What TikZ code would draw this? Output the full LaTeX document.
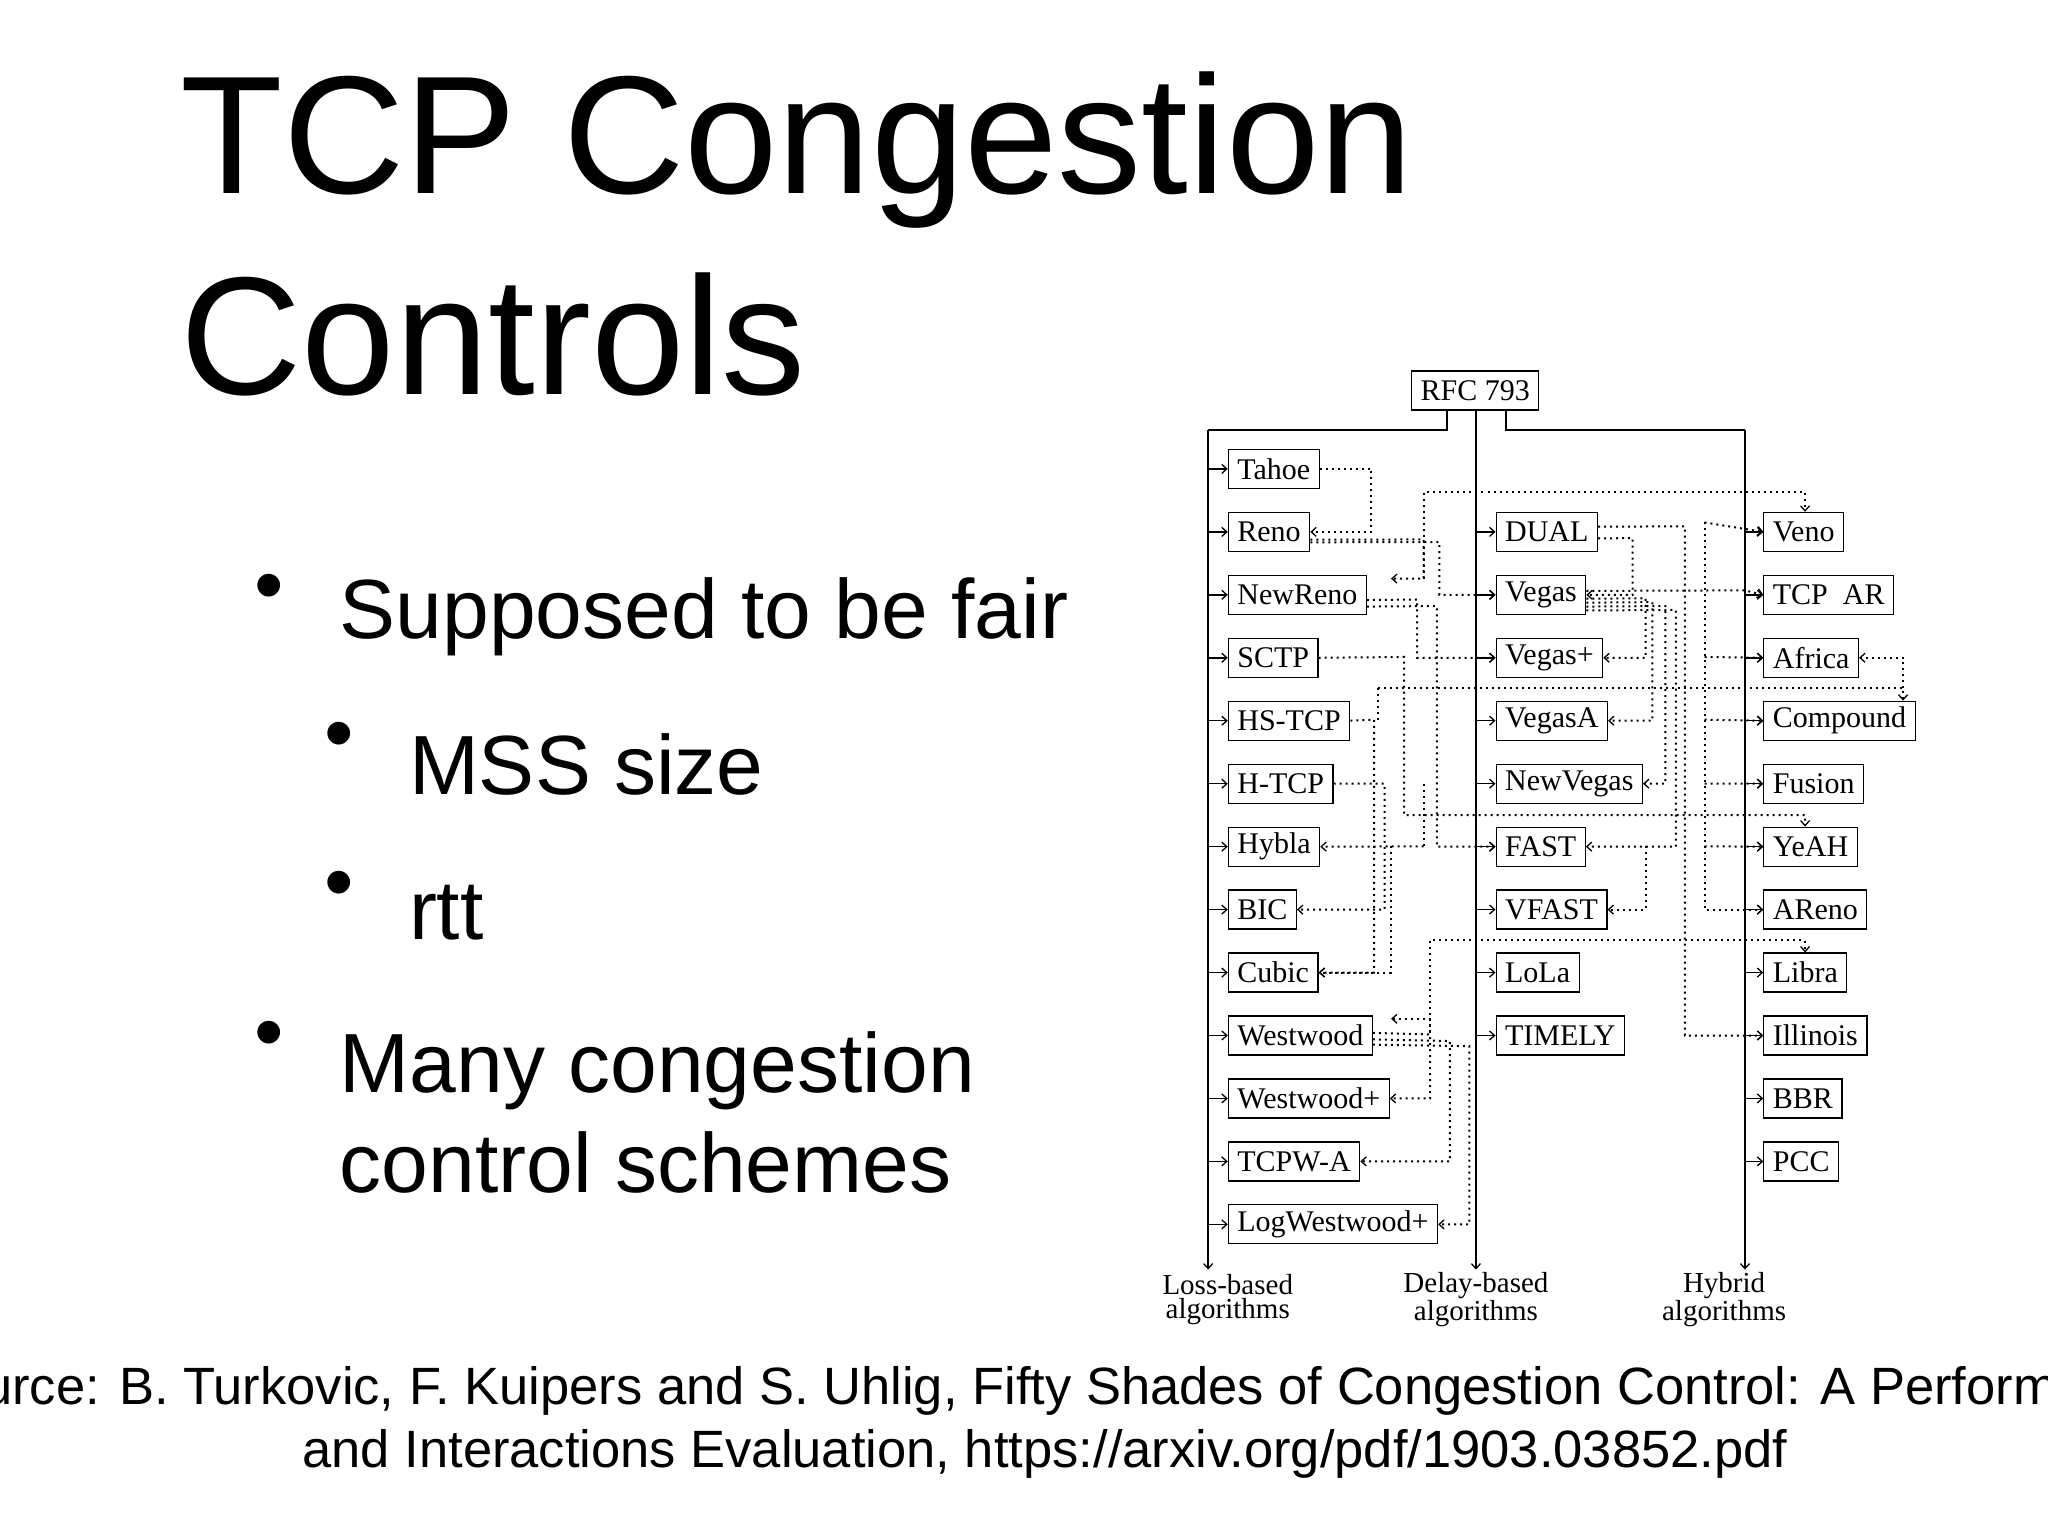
\documentclass[tikz,border=0pt]{standalone}
\usepackage{fontspec}
\setmainfont{Liberation Sans}
\newfontfamily\dfont{Liberation Serif}
\usetikzlibrary{arrows.meta}
\begin{document}
\begin{tikzpicture}[x=1.306pt,y=-1.306pt,
  box/.style={draw,line width=1.2pt,font=\dfont\fontsize{30}{32}\selectfont,inner xsep=9pt,inner ysep=0pt,minimum height=39pt,anchor=west},
  tree/.style={line width=2.2pt},
  tip/.style={-{Straight Barb[length=5pt,width=9pt,line width=1.3pt]}},
  dot/.style={line width=2pt,dash pattern=on 2pt off 4pt,-{Straight Barb[length=5pt,width=9pt,line width=1.3pt]}},
  dl/.style={line width=2pt,dash pattern=on 2pt off 4pt},
  lab/.style={font=\dfont\fontsize{29}{24}\selectfont,align=center},
  bul/.style={anchor=west,font=\fontsize{84}{100}\selectfont}]
\useasboundingbox (0,0) rectangle (1568,1176);
% title and bullets
\node[anchor=base west,font=\fontsize{168}{168}\selectfont,inner sep=0] (t1) at (138,148) {TCP Congestion};
\node[anchor=base west,font=\fontsize{168}{168}\selectfont,inner sep=0] (t2) at (138,302) {Controls};
\node[bul,inner sep=0] (b1d) at (195,455) {•};
\node[bul,inner sep=0] (b1) at (260,472) {Supposed to be fair};
\node[bul,inner sep=0] (b2d) at (248,568) {•};
\node[bul,inner sep=0] (b2) at (313,585) {MSS size};
\node[bul,inner sep=0] (b3d) at (248,682) {•};
\node[bul,inner sep=0] (b3) at (313,699) {rtt};
\node[bul,inner sep=0] (b4d) at (195,797) {•};
\node[bul,inner sep=0,align=left] (b4) at (260,852) {Many congestion\\control schemes};
\node[font=\fontsize{52.5}{63}\selectfont,align=center] (src) at (800,1089) {Source: B. Turkovic, F. Kuipers and S. Uhlig, Fifty Shades of Congestion Control: A Performance\\and Interactions Evaluation, https://arxiv.org/pdf/1903.03852.pdf};
% diagram
\node[box,anchor=center] (rfc) at (1129.5,299) {RFC 793};
\coordinate (L) at (925,329); \coordinate (M) at (1130,329); \coordinate (R) at (1336,329);
\draw[tree] (1108,314) |- (L);
\draw[tree] (1153,314) |- (R);
\draw[tree,tip] (L) -- (925,972);
\draw[tree,tip] (1130,314) -- (1130,972);
\draw[tree,tip] (R) -- (1336,972);
\node[lab] (ll) at (940,995) {Loss-based\\algorithms};
\node[lab] (dl) at (1130,995) {Delay-based\\algorithms};
\node[lab] (hl) at (1320,995) {Hybrid\\algorithms};
\foreach \n/\t/\r in {tahoe/Tahoe/0,reno/Reno/1,newreno/NewReno/2,sctp/SCTP/3,hstcp/HS-TCP/4,htcp/H-TCP/5,hybla/Hybla/6,bic/BIC/7,cubic/Cubic/8,westwood/Westwood/9,wplus/Westwood+/10,tcpwa/TCPW-A/11,logw/LogWestwood+/12}{
  \node[box] (\n) at (940,359+48.2*\r) {\t};
  \draw[tree,line width=1.5pt,tip] (925,359+48.2*\r) -- (\n.west);}
\foreach \n/\t/\r in {dual/DUAL/1,vegas/Vegas/2,vegasp/Vegas+/3,vegasa/VegasA/4,newvegas/NewVegas/5,fast/FAST/6,vfast/VFAST/7,lola/LoLa/8,timely/TIMELY/9}{
  \node[box] (\n) at (1145,359+48.2*\r) {\t};
  \draw[tree,line width=1.5pt,tip] (1130,359+48.2*\r) -- (\n.west);}
\foreach \n/\t/\r in {veno/Veno/1,tcpar/TCP\ \ AR/2,africa/Africa/3,compound/Compound/4,fusion/Fusion/5,yeah/YeAH/6,areno/AReno/7,libra/Libra/8,illinois/Illinois/9,bbr/BBR/10,pcc/PCC/11}{
  \node[box] (\n) at (1350,359+48.2*\r) {\t};
  \draw[tree,line width=1.5pt,tip] (1336,359+48.2*\r) -- (\n.west);}
% dotted relations
\draw[dot] (tahoe.east) -- (1050,359) |- (reno.east);
\draw[dot] (reno.east) ++(0,6) -- (1090,413) -- (1090,443) -- (1065,443);
\draw[dot] (1090,443) |- (1382,377) -- (veno.north -| 1382,0);
\draw[dot] (reno.east) ++(0,8) -- (1102,415) |- (vegas.west);
\draw[dot] (newreno.east) ++(0,4) -- (1085,459) |- (vegasp.west);
\draw[dot] (newreno.east) ++(0,9) -- (1100,464) |- (fast.west);
\draw[dot] (sctp.east) -- (1075,503) |- (1382,624) -- (yeah.north -| 1382,0);
\draw[dot] (hstcp.east) -- (1052,551) |- (cubic.east);
\draw[dot] (1055,527) -- (1457,527) -- (compound.north -| 1457,0);
\draw[dl] (1055,527) -- (1055,551);
\draw[dot] (htcp.east) -- (1060,600) |- (bic.east);
\draw[dot] (1090,648) -- (hybla.east);
\draw[dl] (1090,600) -- (1090,648);
\draw[dot] (1065,648) |- (cubic.east);
\draw[dot] (1095,805) |- (1382,720) -- (libra.north -| 1382,0);
\draw[dot] (1095,790) -- (1095,780) -- (1065,780);
\draw[dot] (westwood.east) ++(0,-2) -- (1095,792) |- (wplus.east);
\draw[dot] (westwood.east) ++(0,3) -- (1110,797) |- (tcpwa.east);
\draw[dot] (westwood.east) ++(0,7) -- (1125,801) |- (logw.east);
\draw[dot] (dual.east) ++(0,-4) -- (1290,403) |- (illinois.west);
\draw[dot] (dual.east) ++(0,5) -- (1250,412) |- (vegas.east);
\draw[dot] (vegas.east) ++(0,-3) -- (1336,452) -- (tcpar.west);
\draw[dot] (vegas.east) ++(0,3) -- (1260,458) |- (vegasp.east);
\draw[dot] (vegas.east) ++(0,6) -- (1265,461) |- (vegasa.east);
\draw[dot] (vegas.east) ++(0,9) -- (1275,464) |- (newvegas.east);
\draw[dot] (vegas.east) ++(0,12) -- (1283,467) |- (fast.east);
\draw[dot] (1260,648) |- (vfast.east);
\draw[dot] (1305,400) -- (veno.west);
\draw[dot] (1305,400) |- (areno.west);
\draw[dot] (1305,503) -- (africa.west);
\draw[dot] (1305,551) -- (compound.west);
\draw[dot] (1305,600) -- (fusion.west);
\draw[dot] (1305,648) -- (yeah.west);
\draw[dot] (1457,527) |- (africa.east);
\end{tikzpicture}
\end{document}
